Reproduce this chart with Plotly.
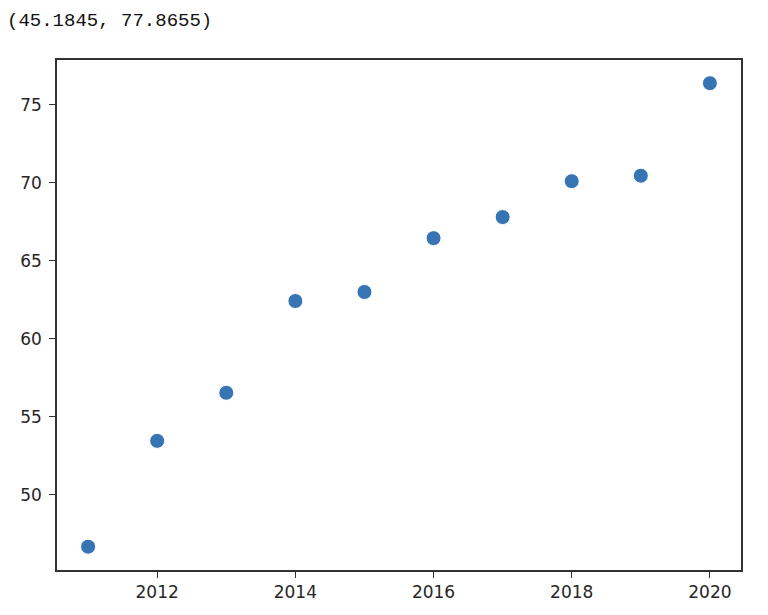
import plotly.graph_objects as go

# values
years = [2011, 2012, 2013, 2014, 2015, 2016, 2017, 2018, 2019, 2020]
values = [46.68, 53.46, 56.54, 62.42, 63.00, 66.45, 67.80, 70.10, 70.45, 76.38]
ylim = (45.1845, 77.8655)
xticks = [2012, 2014, 2016, 2018, 2020]
yticks = [50, 55, 60, 65, 70, 75]

axis_style = dict(
    showline=True, mirror=True, linecolor="#333333", linewidth=1.5,
    ticks="outside", ticklen=6, tickwidth=1.3, tickcolor="#333333",
    showgrid=False, zeroline=False,
    tickfont=dict(family="DejaVu Sans", size=17, color="#262626"),
)

fig = go.Figure(go.Scatter(
    x=years, y=values, mode="markers",
    marker=dict(size=15, color="#3674b4", line=dict(color="white", width=1)),
))

# page has an 8px body margin, so the figure is a bit smaller than the window
fig.update_layout(
    width=760, height=607,
    margin=dict(l=49, r=27, t=52, b=45),
    paper_bgcolor="white", plot_bgcolor="white",
    showlegend=False,
    xaxis=dict(range=[2010.55, 2020.45], tickvals=xticks, **axis_style),
    yaxis=dict(range=list(ylim), tickvals=yticks, ticklabelstandoff=4, **axis_style),
)

# jupyter output line above the chart
fig.add_annotation(
    text=f"({ylim[0]}, {ylim[1]})",
    xref="paper", yref="paper", x=-52 / 684, y=1 + 52 / 510,
    xanchor="left", yanchor="top", showarrow=False,
    font=dict(family="Liberation Mono", size=19, color="#111111"),
)

fig.write_html("out.html")
